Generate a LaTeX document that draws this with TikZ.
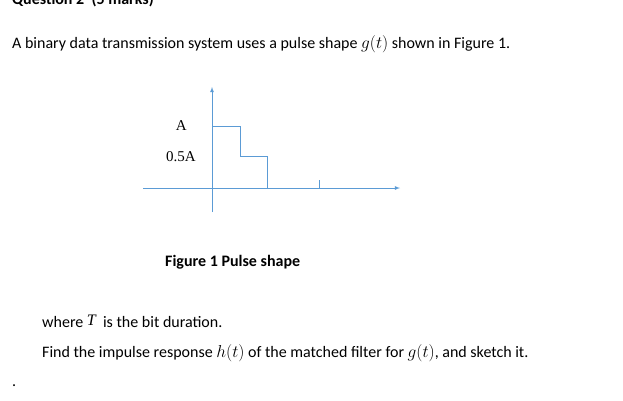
\documentclass[tikz,border=0pt]{standalone}
\usepackage{fontspec}
\setmainfont{Carlito}
\newfontfamily\tnr{Liberation Serif}
\definecolor{ax}{RGB}{91,155,213}
\begin{document}
\begin{tikzpicture}[x=1pt,y=-1pt,
  txt/.style={anchor=base west,inner sep=0pt,font=\fontsize{16}{19}\selectfont},
  lab/.style={anchor=base east,inner sep=0pt,font=\tnr\fontsize{15}{17}\selectfont},
  axl/.style={draw=ax,line width=0.8pt}]
\useasboundingbox (0,0) rectangle (623,400);
\begin{scope}
\clip (0,0) rectangle (623,400);
\node[txt,font=\bfseries\fontsize{16}{19}\selectfont] (q) at (12,4) {Question 2\ \ (5 marks)};
\end{scope}
\node[txt] (l1) at (12,48) {A binary data transmission system uses a pulse shape $g(t)$ shown in Figure 1.};
% axes
\coordinate (xa) at (143,188); \coordinate (xb) at (400,188);
\coordinate (ya) at (212,212); \coordinate (yb) at (212,87);
\draw[axl,-latex] (xa) -- (xb);
\draw[axl,-latex] (ya) -- (yb);
\coordinate (p0) at (212,126);
\coordinate (p1) at (240,126);
\coordinate (p2) at (240,156);
\coordinate (p3) at (267,156);
\coordinate (p4) at (267,188);
\draw[axl] (p0) -- (p1) -- (p2) -- (p3) -- (p4);
\coordinate (t0) at (319,188); \coordinate (t1) at (319,180);
\draw[axl] (t0) -- (t1);
\node[lab] (la) at (187,130) {A};
\node[lab] (lb) at (196,161) {0.5A};
\node[txt,font=\bfseries\fontsize{16}{19}\selectfont] (cap) at (165,266) {Figure 1 Pulse shape};
\node[txt] (l2) at (42,327) {where \raisebox{2pt}{\tnr\itshape T}\ \ is the bit duration.};
\node[txt] (l3) at (42,357) {Find the impulse response $h(t)$ of the matched filter for $g(t)$, and sketch it.};
\node[txt] (dot) at (12,386) {.};
\end{tikzpicture}
\end{document}
